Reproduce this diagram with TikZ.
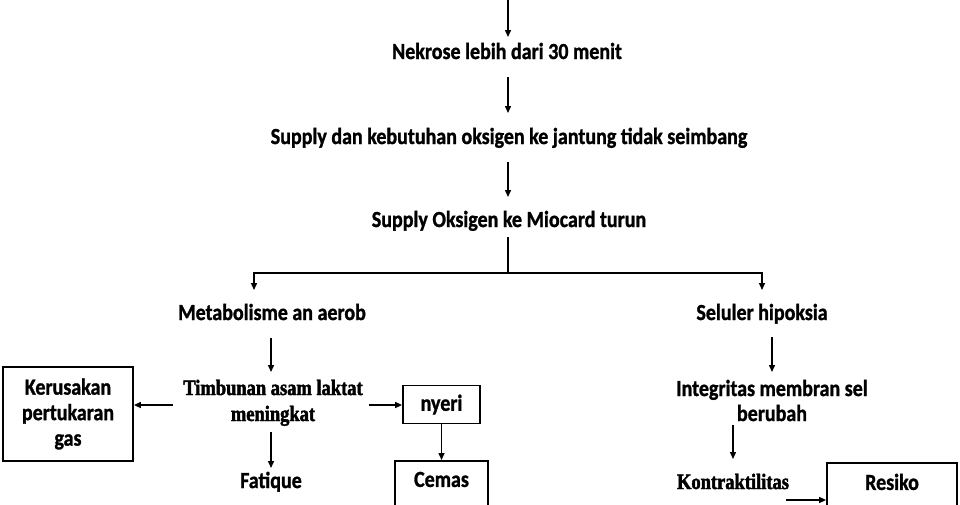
\documentclass[tikz,border=0pt]{standalone}
\usepackage{fontspec}
\usetikzlibrary{arrows.meta}
\newfontfamily\calf[FakeStretch=0.87, FakeBold=1.2]{Carlito Bold}
\newfontfamily\timf[FakeStretch=0.84, FakeBold=2]{Liberation Serif Bold}
\begin{document}
\begin{tikzpicture}[x=1pt,y=-1pt,
  txt/.style={inner sep=0pt, anchor=base, align=center, font=\calf\fontsize{23}{25}\selectfont},
  sertxt/.style={inner sep=0pt, anchor=base, align=center, font=\timf\fontsize{22}{26}\selectfont},
  boxnode/.style={draw, line width=1.8pt, align=center, font=\calf\fontsize{23}{25.5}\selectfont},
  arr/.style={line width=1.4pt, -{Triangle[length=7pt,width=6pt]}},
  ln/.style={line width=1.4pt}]
\clip (0,0) rectangle (960,504);
\fill[white] (0,0) rectangle (960,504);
% text nodes
\node[txt] (nek) at (507,59) {Nekrose lebih dari 30 menit};
\node[txt] (sd) at (509,144) {Supply dan kebutuhan oksigen ke jantung tidak seimbang};
\node[txt] (so) at (509,227) {Supply Oksigen ke Miocard turun};
\node[txt] (met) at (272,320) {Metabolisme an aerob};
\node[txt] (sel) at (762,320) {Seluler hipoksia};
\node[sertxt] (tim) at (273,421) {Timbunan asam laktat\\meningkat};
\node[txt] (int) at (772,421) {Integritas membran sel\\berubah};
\node[txt] (fat) at (271,488) {Fatique};
\node[sertxt] (kon) at (733,489) {Kontraktilitas};
% boxes
\node[boxnode, minimum width=130pt, minimum height=94pt, inner sep=0pt] (ker) at (68,414) {Kerusakan\\pertukaran\\gas};
\node[boxnode, minimum width=77pt, minimum height=38pt, inner sep=0pt] (ny) at (441.5,404.5) {nyeri};
\node[boxnode, anchor=north, minimum width=93pt, inner xsep=0pt, inner ysep=11pt, text height=15pt, text depth=40pt] (cem) at (441.5,460) {Cemas};
\node[boxnode, anchor=north, minimum width=130pt, inner xsep=0pt, inner ysep=12pt, text height=15pt, text depth=40pt] (res) at (892,462) {Resiko};
% connectors
\coordinate (top) at (508,-2);
\draw[arr] (top) -- ([xshift=1pt,yshift=22pt]nek.base);
\draw[arr] ([xshift=1pt,yshift=-18pt]nek.base) -- ([xshift=-1pt,yshift=31pt]sd.base);
\draw[arr] ([xshift=-1pt,yshift=-18pt]sd.base) -- ([xshift=-1pt,yshift=30pt]so.base);
\coordinate (br) at (508,273);
\draw[ln] ([xshift=-1pt,yshift=-10pt]so.base) -- (br);
\draw[arr] (br) -| ([xshift=-18pt,yshift=30pt]met.base);
\draw[arr] (br) -| ([yshift=30pt]sel.base);
\draw[arr] ([xshift=-1pt,yshift=-18pt]met.base) -- ([xshift=-2pt,yshift=49pt]tim.base);
\draw[arr] ([xshift=-2pt,yshift=-11pt]tim.base) -- ([yshift=20pt]fat.base);
\coordinate (t1) at ([xshift=-10pt,yshift=16pt]tim.base west);
\draw[arr] (t1) -- (t1 -| ker.east);
\coordinate (t2) at ([xshift=6pt,yshift=16pt]tim.base east);
\draw[arr] (t2) -- (t2 -| ny.west);
\draw[arr] (ny) -- (cem);
\coordinate (s1) at ([yshift=-17pt]sel.base);
\draw[arr] (s1 -| int.base) -- ([yshift=49pt]int.base);
\coordinate (i1) at ([yshift=-4pt]int.base);
\draw[arr] (i1 -| kon.base) -- ([yshift=30pt]kon.base);
\coordinate (k1) at ([xshift=-3pt,yshift=-11pt]kon.base east);
\draw[arr] (k1) -- (k1 -| res.west);
\end{tikzpicture}
\end{document}
